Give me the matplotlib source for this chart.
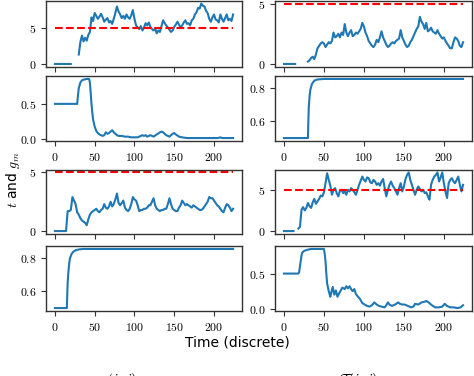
import numpy as np
import matplotlib
matplotlib.use("Agg")
import matplotlib.pyplot as plt

plt.rcParams['mathtext.fontset'] = 'cm'

W, H = 474, 376

time = np.arange(0, 225, 2)
threshold = 5

# row 1 left: t (with threshold)
t_a = [0] * 11 + [np.nan] * 4 + [
    1.3, 3.0, 3.9, 3.1, 3.6, 3.2, 4.0, 4.4, 6.4, 5.9,
    7.0, 6.6, 6.2, 6.5, 6.9, 6.4, 5.8, 6.1, 6.3, 5.7,
    5.9, 5.5, 6.2, 7.0, 7.9, 7.2, 6.8, 6.3, 6.6, 6.2,
    6.8, 6.4, 6.2, 6.7, 7.4, 6.2, 5.3, 5.0, 4.8, 5.2,
    4.6, 5.0, 5.6, 5.3, 5.7, 5.1, 4.8, 4.6, 4.9, 4.2,
    4.6, 4.4, 5.2, 6.0, 5.6, 5.3, 5.0, 4.7, 4.4, 4.6,
    5.1, 5.4, 5.8, 5.4, 5.0, 5.3, 5.7, 6.0, 5.5, 5.6,
    5.3, 6.0, 6.2, 6.8, 7.1, 7.7, 7.6, 8.3, 8.0, 7.9,
    7.3, 7.0, 6.2, 5.8, 6.4, 6.8, 6.1, 6.0, 5.7, 6.8,
    6.2, 5.8, 6.3, 6.8, 6.0, 6.2, 5.9, 6.8]

# row 1 right: t (with threshold)
t_b = [0] * 8 + [np.nan] * 7 + [
    0.2, 0.3, 0.5, 0.6, 0.4, 0.8, 1.3, 1.5, 1.7, 1.8,
    1.7, 1.4, 1.6, 1.8, 1.7, 1.9, 2.6, 2.2, 2.3, 2.5,
    2.2, 2.6, 2.4, 3.3, 2.6, 2.3, 2.6, 2.8, 2.3, 2.4,
    2.6, 2.5, 2.7, 2.9, 3.4, 3.1, 2.6, 2.3, 1.9, 1.7,
    1.5, 1.4, 1.6, 2.0, 1.8, 2.2, 2.7, 2.2, 1.9, 1.6,
    1.4, 1.5, 1.7, 1.8, 1.7, 1.9, 2.0, 2.1, 2.8, 2.2,
    1.9, 1.6, 1.4, 1.5, 1.8, 2.0, 2.3, 2.6, 2.9, 3.1,
    3.9, 3.5, 3.3, 2.9, 3.4, 2.7, 2.8, 3.0, 2.7, 2.6,
    2.5, 2.8, 2.5, 2.3, 2.1, 2.2, 1.9, 1.7, 1.5, 1.3,
    1.3, 1.8, 2.2, 2.1, 1.9, 1.5, 1.4, 1.8]

# row 3 left
t_e = [0] * 8 + [
    1.7, 1.7, 1.8, 2.9, 2.6, 2.3, 1.6, 1.4, 1.1, 0.9,
    0.8, 0.7, 0.5, 1.0, 1.4, 1.6, 1.7, 1.8, 1.9, 1.7,
    1.6, 1.8, 1.9, 2.3, 2.0, 1.9, 2.1, 2.5, 2.1, 2.3,
    2.7, 3.2, 2.4, 2.2, 2.4, 2.6, 2.0, 1.8, 1.7, 1.9,
    2.3, 2.9, 2.7, 2.6, 2.2, 1.7, 1.8, 1.8, 1.9, 1.9,
    2.0, 2.2, 2.2, 2.5, 2.8, 2.2, 1.9, 1.8, 1.7, 1.8,
    1.8, 1.9, 1.9, 2.3, 2.8, 2.3, 1.9, 1.8, 1.7, 1.7,
    2.0, 2.2, 2.6, 2.4, 2.2, 2.3, 2.2, 2.1, 2.0, 2.2,
    2.1, 2.0, 1.9, 1.8, 1.8, 1.9, 2.1, 2.3, 2.5, 2.9,
    2.8, 2.8, 2.6, 2.4, 2.2, 2.1, 1.9, 1.7, 1.6, 2.0,
    2.3, 2.2, 2.0, 1.7, 1.9]

# row 3 right
t_f = [0] * 7 + [np.nan] * 2 + [
    0.3, 0.5, 2.6, 2.9, 2.5, 2.8, 3.4, 3.0, 2.8, 3.5,
    3.9, 3.3, 3.6, 3.9, 4.3, 4.2, 4.7, 5.8, 7.0, 6.2,
    5.5, 4.4, 5.0, 5.2, 4.6, 4.2, 4.9, 5.0, 4.6, 4.8,
    4.4, 5.0, 4.8, 5.2, 5.0, 4.7, 4.4, 5.0, 5.6, 6.1,
    6.6, 6.2, 6.0, 6.5, 6.4, 5.9, 5.8, 6.2, 6.0, 5.6,
    5.8, 5.5, 6.0, 6.3, 5.2, 4.2, 5.0, 5.6, 6.0, 5.5,
    5.2, 4.8, 4.4, 5.2, 5.8, 4.8, 5.4, 6.3, 6.8, 7.1,
    6.2, 5.6, 5.0, 4.4, 5.0, 5.4, 5.1, 4.8, 5.0, 4.6,
    4.7, 4.2, 3.8, 5.6, 6.2, 6.6, 6.8, 7.1, 6.0, 6.5,
    7.1, 5.8, 4.8, 4.0, 5.8, 6.2, 6.4, 6.0, 5.8, 6.2,
    6.6, 5.6, 4.8, 5.6]

# row 2 left: g_m
time_c = [0, 28, 29, 30, 32, 34, 36, 40, 43, 44, 45, 46, 47, 48, 50, 52, 54, 56,
          58, 60, 62, 64, 66, 68, 70, 72, 74, 76, 78, 80, 84, 88, 92, 96, 100,
          104, 108, 110, 112, 114, 116, 118, 120, 124, 128, 132, 134, 136, 140,
          144, 146, 148, 150, 152, 156, 160, 166, 172, 180, 190, 200, 205, 208,
          210, 216, 224]
g_c = [0.5, 0.5, 0.62, 0.72, 0.8, 0.83, 0.84, 0.85, 0.85, 0.8, 0.65, 0.5, 0.38,
       0.28, 0.18, 0.12, 0.09, 0.07, 0.06, 0.05, 0.06, 0.1, 0.08, 0.09, 0.11,
       0.13, 0.1, 0.08, 0.06, 0.05, 0.05, 0.04, 0.04, 0.03, 0.03, 0.03, 0.05,
       0.06, 0.05, 0.06, 0.04, 0.05, 0.06, 0.04, 0.07, 0.1, 0.11, 0.1, 0.06,
       0.04, 0.06, 0.08, 0.09, 0.07, 0.04, 0.03, 0.02, 0.02, 0.02, 0.02, 0.02,
       0.02, 0.03, 0.02, 0.02, 0.02]

# row 2 right
time_d = [0, 30, 30.5, 31, 32, 33, 35, 38, 42, 50, 224]
g_d = [0.5, 0.5, 0.6, 0.68, 0.75, 0.79, 0.825, 0.845, 0.852, 0.855, 0.855]

# row 4 left
time_g = [0, 15, 15.5, 16, 17, 18, 19, 21, 23, 26, 30, 35, 224]
g_g = [0.5, 0.5, 0.58, 0.65, 0.72, 0.77, 0.8, 0.825, 0.838, 0.847, 0.852,
       0.855, 0.855]

# row 4 right
time_h = [0, 18, 19, 20, 21, 22, 23, 25, 27, 30, 34, 40, 50, 51, 52, 53, 54, 56,
          58, 59, 61, 63, 65, 67, 69, 71, 73, 76, 78, 80, 82, 84, 86, 88, 90,
          92, 95, 98, 101, 104, 107, 110, 113, 116, 119, 122, 126, 128, 130,
          132, 135, 139, 143, 145, 148, 151, 155, 159, 162, 164, 168, 172, 176,
          178, 181, 185, 189, 194, 198, 201, 204, 208, 212, 217, 221, 224]
g_h = [0.5, 0.5, 0.52, 0.6, 0.68, 0.76, 0.8, 0.82, 0.83, 0.84, 0.85, 0.85,
       0.85, 0.78, 0.67, 0.5, 0.36, 0.25, 0.17, 0.22, 0.31, 0.2, 0.26, 0.17,
       0.22, 0.26, 0.3, 0.28, 0.32, 0.29, 0.32, 0.28, 0.25, 0.28, 0.21, 0.18,
       0.14, 0.08, 0.06, 0.04, 0.03, 0.05, 0.09, 0.06, 0.04, 0.03, 0.02, 0.05,
       0.09, 0.06, 0.04, 0.06, 0.09, 0.07, 0.06, 0.06, 0.04, 0.02, 0.03, 0.07,
       0.06, 0.09, 0.1, 0.11, 0.09, 0.05, 0.02, 0.02, 0.03, 0.07, 0.04, 0.02,
       0.02, 0.01, 0.02, 0.05]

for s in (t_a, t_b, t_e, t_f):
    assert len(s) == len(time), len(s)

xticks = [0, 50, 100, 150, 200]


def box(x0, x1, ytop, ybot):
    return [x0 / W, 1 - ybot / H, (x1 - x0) / W, (ybot - ytop) / H]


def style(ax, yticks, xlabels):
    ax.set_yticks(yticks, labels=["$%s$" % v for v in yticks])
    if xlabels:
        ax.set_xticks(xticks, labels=["$%d$" % v for v in xticks])
    else:
        ax.set_xticks(xticks, labels=[])
    ax.tick_params(labelsize=8.5, color='#333333')
    for sp in ax.spines.values():
        sp.set_color('#333333')
        sp.set_linewidth(1.0)


fig = plt.figure(figsize=(W / 100, H / 100), dpi=100)

cols = [(46, 242), (275, 472)]
rows = [(0.5, 67), (76, 141), (169.5, 234), (246, 311)]

ax = fig.add_axes(box(*cols[0], *rows[0]))
ax.plot(time, t_a, color='C0', lw=1.5)
ax.plot(time, [threshold] * len(time), 'r--', lw=1.5)
style(ax, [0, 5], False)

ax = fig.add_axes(box(*cols[1], *rows[0]))
ax.plot(time, t_b, color='C0', lw=1.5)
ax.plot(time, [threshold] * len(time), 'r--', lw=1.5)
style(ax, [0, 5], False)

ax = fig.add_axes(box(*cols[0], *rows[1]))
ax.plot(time_c, g_c, color='C0', lw=1.5)
style(ax, [0.0, 0.5], True)

ax = fig.add_axes(box(*cols[1], *rows[1]))
ax.plot(time_d, g_d, color='C0', lw=1.5)
style(ax, [0.6, 0.8], True)

ax = fig.add_axes(box(*cols[0], *rows[2]))
ax.plot(time, t_e, color='C0', lw=1.5)
ax.plot(time, [threshold] * len(time), 'r--', lw=1.5)
style(ax, [0, 5], False)

ax = fig.add_axes(box(*cols[1], *rows[2]))
ax.plot(time, t_f, color='C0', lw=1.5)
ax.plot(time, [threshold] * len(time), 'r--', lw=1.5)
style(ax, [0, 5], False)

ax = fig.add_axes(box(*cols[0], *rows[3]))
ax.plot(time_g, g_g, color='C0', lw=1.5)
style(ax, [0.6, 0.8], True)

ax = fig.add_axes(box(*cols[1], *rows[3]))
ax.plot(time_h, g_h, color='C0', lw=1.5)
style(ax, [0.0, 0.5], True)

fig.text(13 / W, 1 - 180 / H, "$t$ and $g_m$", rotation=90,
         ha='center', va='center', fontsize=10)
fig.text(0.5, 1 - 342 / H, "Time (discrete)", ha='center', va='center',
         fontsize=10)
fig.text(118 / W, 1 - 371 / H, "$s(i,j)$", ha='center', va='top', fontsize=11)
fig.text(359 / W, 1 - 371 / H, r"$\mathcal{T}(i,j)$", ha='center', va='top',
         fontsize=11)

fig.savefig("out.png", dpi=100)
